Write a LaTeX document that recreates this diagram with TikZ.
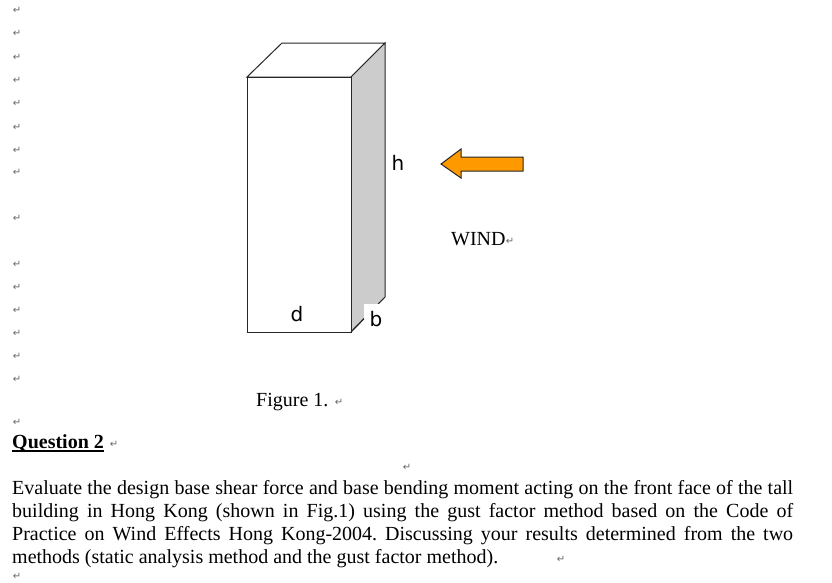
\documentclass[tikz,border=0pt]{standalone}
\usepackage{fontspec}
\setmainfont{Liberation Serif}
\newfontfamily\labelfont{DejaVu Sans}
\newfontfamily\markfont{DejaVu Sans}
\frenchspacing
\tikzset{
  edge/.style={draw=black!85,line width=1pt,line join=miter},
  retmark/.style={inner sep=0pt,text=black!60,font=\markfont\fontsize{10}{10}\selectfont},
  dimlabel/.style={inner sep=0pt,text=black,font=\labelfont\fontsize{20}{20}\selectfont},
  doctext/.style={inner sep=0pt,anchor=base west,font=\fontsize{20}{23}\selectfont},
}
\begin{document}
\begin{tikzpicture}[x=1pt,y=-1pt]
\useasboundingbox (0,0) rectangle (832,582);
\fill[white] (0,0) rectangle (832,582);
% building
\draw[edge,fill=white] (247,77) -- (282,43) -- (385,43) -- (351,77) -- cycle;
\draw[edge,fill=black!20] (351,77) -- (385,43) -- (385,297) -- (351,332) -- cycle;
\fill[white] (364,304) rectangle (392,336);
\draw[edge,fill=white] (247,77) rectangle (351,332);
\draw[edge] (351,332) -- (364,318.7);
% wind arrow
\draw[draw=black!85,line width=1pt,fill={rgb,255:red,255;green,153;blue,0}]
  (441,164) -- (461,149) -- (461,157) -- (523,157) -- (523,171) -- (461,171) -- (461,178) -- cycle;
% labels
\node[dimlabel] (h) at (398,163) {h};
\node[dimlabel] (d) at (297,314) {d};
\node[dimlabel] (b) at (376,319) {b};
\node[doctext] (wind) at (451,245) {WIND};
\node[doctext] (fig) at (256,406) {Figure 1.};
\node[doctext,font=\bfseries\fontsize{20}{23}\selectfont] (q) at (12,448) {Question 2};
\draw[black,line width=1.3pt] (12,451) -- (104,451);
\node[inner sep=0pt,anchor=north west,text width=781pt,align=justify,font=\fontsize{20}{23}\selectfont] (body) at (12,480)
 {Evaluate the design base shear force and base bending moment acting on the front face of the tall\linebreak
  building in Hong Kong (shown in Fig.1) using the gust factor method based on the Code of\linebreak
  Practice on Wind Effects Hong Kong-2004. Discussing your results determined from the two\linebreak
  methods (static analysis method and the gust factor method).};
% paragraph marks
\foreach \x/\y [count=\i] in {17/10,17/33,17/57,17/80,17/103,17/127,17/150,17/172,17/218,17/264,17/287,17/310,17/333,17/356,17/379,17/422,17/576,510/241,339/402,114/444,407/467,561/559}
  \node[retmark] (m\i) at (\x,\y) {↵};
\end{tikzpicture}
\end{document}
